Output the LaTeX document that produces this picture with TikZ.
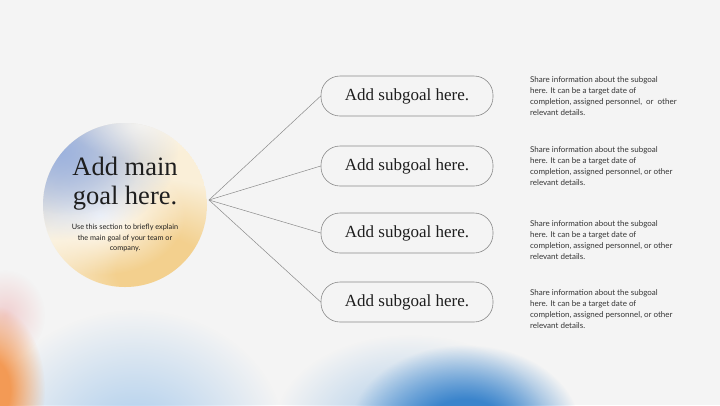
\documentclass[tikz,border=0pt]{standalone}
\usepackage{fontspec}
\setmainfont{Liberation Serif}
\newfontfamily\lato{Lato}
\usetikzlibrary{fadings}
\definecolor{bg}{HTML}{F4F4F4}
\definecolor{cbase}{HTML}{FAEFD8}
\definecolor{cyeld}{HTML}{F3D08E}
\definecolor{cblue}{HTML}{9CB2DE}
\definecolor{bblue}{HTML}{3A84CC}
\definecolor{lblue}{HTML}{A9CBEC}
\definecolor{borange}{HTML}{F39A55}
\definecolor{bpink}{HTML}{F0BFC0}
\definecolor{linegray}{HTML}{8A8A8A}
\definecolor{txt}{HTML}{1E1E1E}
\tikzfading[name=fuzzy, inner color=transparent!0, outer color=transparent!100]
\pgfdeclareradialshading{softfadeshade}{\pgfpointorigin}{color(0bp)=(white); color(9bp)=(white); color(25bp)=(black); color(50bp)=(black)}
\pgfdeclarefading{soft}{\pgfuseshading{softfadeshade}}
\tikzset{
  subbox/.style={draw=linegray, line width=0.6pt, rounded corners=19pt,
    minimum width=172pt, minimum height=40pt, inner sep=0pt,
    font=\fontsize{17}{20}\selectfont, text=txt},
  conn/.style={draw=linegray, line width=0.5pt},
  desc/.style={anchor=north west, inner sep=0pt, align=left, text=txt!90,
    font=\lato\fontsize{8}{11.3}\selectfont},
}
\begin{document}
\begin{tikzpicture}[x=1pt,y=-1pt]
\useasboundingbox (0,0) rectangle (720,405);
\fill[bg] (0,0) rectangle (720,405);
% background blobs
\begin{scope}
  \clip (0,0) rectangle (720,405);
  \fill[lblue, path fading=fuzzy] (135,440) ellipse (150 and 130);
  \fill[bpink, path fading=fuzzy, opacity=0.7] (5,315) ellipse (40 and 45);
  \fill[borange, path fading=soft] (-10,390) ellipse (55 and 85);
  \fill[bblue!45, path fading=fuzzy] (410,425) ellipse (135 and 90);
  \fill[bblue, path fading=soft] (465,430) ellipse (115 and 85);
\end{scope}
% main circle
\begin{scope}
  \clip (125,205) circle (82);
  \fill[cbase] (125,205) circle (82);
  \fill[cyeld, path fading=soft] (160,270) ellipse (120 and 90);
  \fill[white, path fading=fuzzy] (100,215) ellipse (85 and 60);
  \fill[cblue, path fading=fuzzy] (58,150) ellipse (120 and 90);
  \fill[cblue, path fading=fuzzy, opacity=0.5] (70,160) ellipse (70 and 55);
  \fill[white, path fading=fuzzy, opacity=0.6] (140,125) ellipse (70 and 35);
\end{scope}
\node[circle, minimum size=164pt, inner sep=0pt] (main) at (125,205) {};
\node[font=\fontsize{26.5}{29}\selectfont, text=txt, align=center, inner sep=0pt] (mtitle) at (125,184) {Add main\\goal here.};
\node[font=\lato\fontsize{7.3}{10.8}\selectfont, text=txt, align=center, inner sep=0pt] (mdesc) at (125,238) {Use this section to briefly explain\\the main goal of your team or\\company.};
\coordinate (hub) at (209,200);
% subgoals
\node[subbox] (s1) at (407,96) {Add subgoal here.};
\node[subbox] (s2) at (407,166) {Add subgoal here.};
\node[subbox] (s3) at (407,233) {Add subgoal here.};
\node[subbox] (s4) at (407,302) {Add subgoal here.};
\foreach \s in {s1,s2,s3,s4} \draw[conn] (hub) -- (\s.west);
% descriptions
\node[desc] (d1) at (530,76) {Share information about the subgoal\\here. It can be a target date of\\completion, assigned personnel,\ \ or\ \ other\\relevant details.};
\node[desc] (d2) at (530,146) {Share information about the subgoal\\here. It can be a target date of\\completion, assigned personnel, or other\\relevant details.};
\node[desc] (d3) at (530,220) {Share information about the subgoal\\here. It can be a target date of\\completion, assigned personnel, or other\\relevant details.};
\node[desc] (d4) at (530,289) {Share information about the subgoal\\here. It can be a target date of\\completion, assigned personnel, or other\\relevant details.};
\end{tikzpicture}
\end{document}
